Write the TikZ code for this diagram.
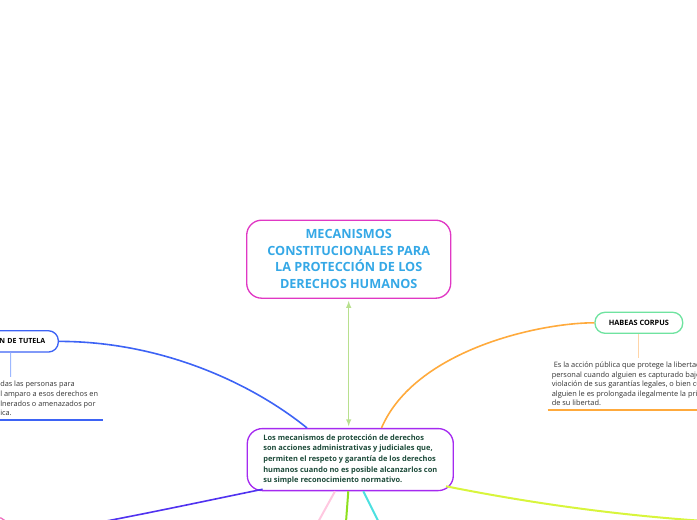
\documentclass[tikz,border=0pt]{standalone}
\usepackage{fontspec}
\setmainfont{Open Sans}
\usetikzlibrary{calc}

\tikzset{
  mapbox/.style={rounded corners=11.25pt, line width=1pt},
  topicbox/.style={rounded corners=7.5pt, line width=1pt, inner ysep=0pt},
  notetext/.style={anchor=north west, inner xsep=0pt, inner ysep=3pt, align=left,
    text={rgb, 255:red, 51; green, 51; blue, 51}, font=\fontsize{5.5}{7.2}\selectfont},
  branch/.style={line width=1.2pt},
  twig/.style={line width=0.8pt}
}

\begin{document}
\begin{tikzpicture}[x=0.75pt,y=0.75pt,yscale=-1,xscale=1]

\useasboundingbox (0,0) rectangle (697,520);
\clip (0,0) rectangle (697,520);

% main nodes
\draw (348.7,259.2) node (title) [mapbox, draw={rgb, 255:red, 224; green, 56; blue, 196}, minimum width=153pt, minimum height=58.5pt, align=center, text={rgb, 255:red, 53; green, 168; blue, 230}, font=\bfseries\fontsize{9.5}{12.4}\selectfont] {MECANISMOS\\CONSTITUCIONALES PARA\\LA PROTECCIÓN DE LOS\\ DERECHOS HUMANOS};
\draw (350.3,459.6) node (core) [mapbox, draw={rgb, 255:red, 165; green, 42; blue, 240}, minimum width=154.5pt, minimum height=46.5pt, align=left, text={rgb, 255:red, 29; green, 75; blue, 58}, font=\bfseries\fontsize{5.6}{7.95}\selectfont] {Los mecanismos de protección de derechos\\son acciones administrativas y judiciales que,\\permiten el respeto y garantía de los derechos\\humanos cuando no es posible alcanzarlos con\\su simple reconocimiento normativo.};

\draw (59,341.4) node (tutela) [topicbox, anchor=east, draw={rgb, 255:red, 61; green, 99; blue, 245}, minimum height=16pt, text width=70.5pt, inner xsep=9.75pt, align=right, font=\bfseries\fontsize{5.3}{6.5}\selectfont] {N DE TUTELA};
\draw (638.85,322.8) node (habeas) [topicbox, draw={rgb, 255:red, 111; green, 227; blue, 160}, minimum width=65.8pt, minimum height=15.75pt, font=\bfseries\fontsize{5.5}{6.5}\selectfont] {HABEAS CORPUS};
\draw (8,516.7) node (offleft) [topicbox, anchor=north east, draw={rgb, 255:red, 240; green, 112; blue, 192}, minimum width=60pt, minimum height=16pt] {};

% notes
\draw (0,377) node (tuteladesc) [notetext] {das las personas para\\l amparo a esos derechos en\\lnerados o amenazados por\\ica.};
\draw (549.5,358) node (habeasdesc) [notetext, inner xsep=1.5pt, font=\fontsize{5.55}{7.1}\selectfont] {\hspace{1.5pt}Es la acción pública que protege la libertad\\personal cuando alguien es capturado bajo\\violación de sus garantías legales, o bien cu\\alguien le es prolongada ilegalmente la pri\\de su libertad.};

% free ends
\coordinate (offbl) at (80,526);
\coordinate (offbr) at (720,522);

% connectors
\draw [<->, >=latex, line width=0.8pt, color={rgb, 255:red, 184; green, 224; blue, 142}, shorten <=1.5pt, shorten >=1.2pt] (title.south) -- (title.south |- core.north);
\draw [branch, color={rgb, 255:red, 61; green, 99; blue, 245}] (tutela.east) .. controls +(101,0) and +(-57,-46) .. ($(core.north)+(-43.3,0)$);
\draw [branch, color={rgb, 255:red, 255; green, 170; blue, 60}] ($(core.north)+(31.2,0)$) .. controls +(33.5,-78) and +(-55,0) .. (habeas.west);
\draw [branch, color={rgb, 255:red, 80; green, 50; blue, 240}] ($(core.south west)+(16,-2)$) .. controls (210,500) and (150,513) .. (offbl);
\draw [branch, line width=1.5pt, color={rgb, 255:red, 216; green, 245; blue, 60}] ($(core.south east)+(-8,-5)$) .. controls (530,503) and (620,516) .. (offbr);
\draw [branch, line width=1.5pt, color={rgb, 255:red, 255; green, 200; blue, 224}] ($(core.south)+(-15.3,0)$) -- ++(-22,40);
\draw [branch, line width=1.5pt, color={rgb, 255:red, 142; green, 224; blue, 30}] ($(core.south)+(-2,0)$) -- ++(-3,40);
\draw [branch, line width=1.5pt, color={rgb, 255:red, 77; green, 224; blue, 224}] ($(core.south)+(13,0)$) -- ++(20,40);

% stems and underlines
\draw [twig, color={rgb, 255:red, 157; green, 184; blue, 255}] ($(tutela.south east)+(-48.3,0)$) -- ($(tuteladesc.north west)+(10.7,0)$);
\draw [branch, color={rgb, 255:red, 61; green, 99; blue, 245}] ($(tuteladesc.south west)+(-10,0)$) -- ($(tuteladesc.south west)+(103,0)$);
\draw [twig, color={rgb, 255:red, 255; green, 213; blue, 168}] (habeas.south) -- (habeas.south |- habeasdesc.north);
\draw [branch, color={rgb, 255:red, 255; green, 170; blue, 60}] ($(habeasdesc.south west)+(-2,0)$) -- ($(habeasdesc.south west)+(160,0)$);

\end{tikzpicture}
\end{document}
